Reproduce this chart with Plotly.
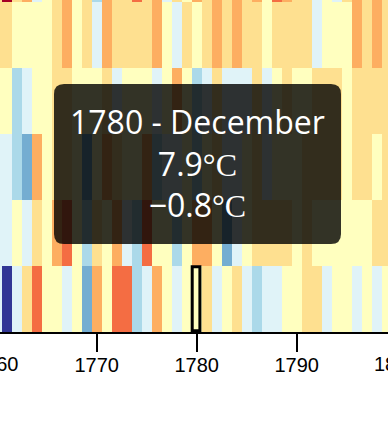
import plotly.graph_objects as go

BASE_TEMP = 8.66
MIN_VAR = -6.976
MAX_VAR = 5.228

years = list(range(1760, 1800))
month_nums = [7, 8, 9, 10, 11, 12]
month_names = ["July", "August", "September", "October", "November", "December"]

# monthly variance (°C) relative to base temperature
var_jul = [0.3, 4.6, 0.4, 1.2, -1.8, -0.7, 0.2, 1.4, -0.9, 0.5,
           -2.9, 1.1, 0.3, 0.6, 2.3, 0.1, 1.3, -1.6, 0.4, -0.6,
           1.0, 0.2, 1.5, 0.7, 1.2, 0.3, 1.1, -0.8, 2.1, 1.6,
           0.5, 0.2, -1.7, -0.5, -2.0, 0.4, 1.3, 0.6, 1.4, 0.1]
var_aug = [0.2, 0.5, -0.6, -0.9, -0.4, -0.7, 0.3, 1.2, -0.5, 0.6,
           -1.8, 1.4, 0.4, 0.7, 0.1, 0.5, 1.1, -0.8, -1.6, 0.3,
           -0.6, 0.2, 1.3, 0.6, 1.0, 0.4, 0.7, -0.9, 0.5, 0.2,
           0.6, 0.3, -1.9, -0.7, -0.4, -1.0, 1.5, 0.4, 1.2, 0.1]
var_sep = [-0.9, -0.6, -3.0, -2.1, -0.8, -1.1, 0.3, 0.5, -0.7, -0.4,
           -1.0, 0.2, -1.7, -0.6, -0.9, -0.5, -2.0, -0.8, 1.1, -0.7,
           -3.2, -1.9, 0.4, -2.2, -1.6, -1.8, 0.1, -2.0, -0.9, 0.3,
           -0.6, -1.0, 0.5, 0.2, 0.6, -0.8, 0.4, 0.1, 0.7, 0.3]
var_oct = [-1.8, -2.2, -3.1, -4.1, 1.2, -0.7, 0.3, 0.5, -0.9, -3.9,
           -0.6, 1.4, 0.2, -1.0, -0.5, 1.1, -2.8, -1.9, -1.7, -0.8,
           -3.0, -0.6, 0.4, -2.0, -1.6, -0.9, 0.6, -2.1, -0.7, -1.1,
           -0.5, 0.3, 0.1, 0.5, 0.2, -0.8, 0.4, 0.7, -0.6, 0.3]
var_nov = [-2.0, -1.7, -0.9, -2.2, 0.4, -0.6, 1.3, 2.4, -0.8, -3.1,
           0.2, -1.0, 1.1, -1.8, -2.9, 2.2, -0.5, -0.9, -3.0, -0.7,
           1.2, 1.5, -0.6, -4.0, -1.9, -0.8, 0.5, 0.3, 0.6, 0.1,
           -0.7, 0.4, -1.1, -0.5, -0.9, -0.6, -1.0, -0.8, 0.2, 0.5]
var_dec = [-1.9, -6.3, -2.0, 0.3, 2.3, -0.7, -1.0, -1.8, -0.6, -4.2,
           1.3, -0.9, 2.5, 2.1, -3.0, -2.2, 1.1, -0.5, -1.7, -0.8,
           -0.8, 0.4, -1.9, -0.6, 0.2, -2.1, -2.9, -1.6, -2.0, -0.9,
           -0.7, 0.5, 0.1, -1.8, -1.0, -0.6, -2.3, -0.8, -1.7, -0.5]

tick_years = [1760, 1770, 1780, 1790, 1800]

selected_year = 1780
selected_month = 12

colors = ['#313695', '#4575b4', '#74add1', '#abd9e9', '#e0f3f8', '#ffffbf',
          '#fee090', '#fdae61', '#f46d43', '#d73027', '#a50026']

variances = [var_jul, var_aug, var_sep, var_oct, var_nov, var_dec]
temps = [[BASE_TEMP + v for v in row] for row in variances]

n = len(colors)
colorscale = []
for i, c in enumerate(colors):
    colorscale.append([i / n, c])
    colorscale.append([(i + 1) / n, c])

# layout geometry
W, H = 388, 429
PLOT_H = 332
X0 = 1760.33
X1 = X0 + 38.8
Y_BOTTOM = 12.5
Y_TOP = 12.5 - PLOT_H / 66.0

fig = go.Figure()
fig.add_trace(go.Heatmap(
    x=years, y=month_nums, z=temps,
    colorscale=colorscale,
    zmin=BASE_TEMP + MIN_VAR, zmax=BASE_TEMP + MAX_VAR,
    showscale=False, hoverinfo="skip", xgap=0, ygap=0,
))

# highlight box around the selected cell
fig.add_shape(type="rect", xref="x", yref="y",
              x0=selected_year - 0.45, x1=selected_year + 0.32,
              y0=selected_month - 0.49, y1=selected_month + 0.48,
              line=dict(color="black", width=3), fillcolor="rgba(0,0,0,0)")

# tooltip
def px(xp):
    return xp / W

def py(yp):
    return 1 - yp / PLOT_H

tx0, tx1, ty0, ty1, r = 54, 341, 84, 244, 10
path = (f"M {px(tx0 + r)} {py(ty0)} L {px(tx1 - r)} {py(ty0)} "
        f"Q {px(tx1)} {py(ty0)} {px(tx1)} {py(ty0 + r)} "
        f"L {px(tx1)} {py(ty1 - r)} Q {px(tx1)} {py(ty1)} {px(tx1 - r)} {py(ty1)} "
        f"L {px(tx0 + r)} {py(ty1)} Q {px(tx0)} {py(ty1)} {px(tx0)} {py(ty1 - r)} "
        f"L {px(tx0)} {py(ty0 + r)} Q {px(tx0)} {py(ty0)} {px(tx0 + r)} {py(ty0)} Z")
fig.add_shape(type="path", xref="paper", yref="paper", path=path,
              fillcolor="rgba(0,0,0,0.8)", line=dict(width=0), layer="above")

mi = month_nums.index(selected_month)
yi = years.index(selected_year)
sel_var = variances[mi][yi]
sel_temp = BASE_TEMP + sel_var
var_txt = f"{sel_var:.1f}".replace("-", "\u2212")
unit = "<span style='font-family:Liberation Serif'>\u00b0C</span>"
tip = f"{selected_year} - {month_names[mi]}<br>{sel_temp:.1f}{unit}<br>{var_txt}{unit}"
fig.add_annotation(xref="paper", yref="paper", x=px(197.5), y=py(163),
                   text=tip, showarrow=False, xanchor="center", yanchor="middle",
                   font=dict(family="Open Sans", size=32, color="white"), align="center")

# edge tick labels outside the visible range (paper position from the axis scale)
for ty in tick_years:
    if ty < X0 or ty > X1:
        fig.add_annotation(xref="paper", yref="paper", x=(ty - X0) / (X1 - X0), y=py(364),
                           text=str(ty), showarrow=False, xanchor="center", yanchor="middle",
                           font=dict(family="Liberation Sans, Arial", size=20, color="black"))

fig.update_layout(
    width=W, height=H,
    margin=dict(l=0, r=0, t=0, b=H - PLOT_H, pad=0),
    paper_bgcolor="white", plot_bgcolor="white",
    showlegend=False,
    xaxis=dict(range=[X0, X1], tickvals=tick_years, ticktext=[str(t) for t in tick_years],
               ticks="outside", ticklen=18, tickwidth=2, tickcolor="black",
               ticklabelstandoff=-4,
               showline=True, linecolor="black", linewidth=2,
               showgrid=False, zeroline=False,
               tickfont=dict(family="Liberation Sans, Arial", size=20, color="black")),
    yaxis=dict(range=[Y_BOTTOM, Y_TOP], visible=False, showgrid=False, zeroline=False),
)

fig.write_html("out.html", config={"displayModeBar": False},
               post_script="document.body.style.margin='0';")
